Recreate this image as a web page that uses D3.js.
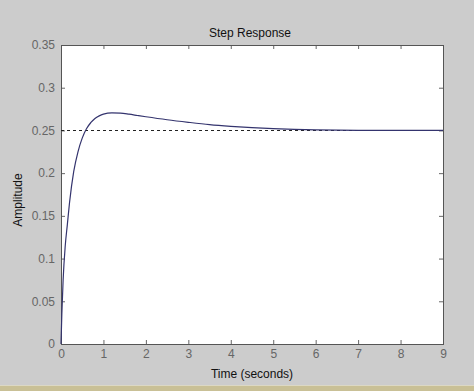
<!DOCTYPE html>
<html>
<head>
<meta charset="utf-8">
<script src="https://cdn.jsdelivr.net/npm/d3@7"></script>
<style>
  html, body { margin: 0; padding: 0; background: #cccccc; }
  svg { display: block; }
</style>
</head>
<body>
<script>
var width = 474
var height = 391

// step response
var time = [0, 0.02, 0.05, 0.1, 0.15, 0.2, 0.3, 0.4, 0.5, 0.6, 0.7, 0.8, 0.9, 1.0, 1.2, 1.4, 1.6, 1.8, 2.0, 2.5, 3.0, 3.5, 4.0, 4.5, 5.0, 5.5, 6.0, 7.0, 8.0, 9.0]
var amplitude = [0, 0.035, 0.075, 0.115, 0.14, 0.165, 0.202, 0.225, 0.241, 0.252, 0.259, 0.264, 0.267, 0.269, 0.2705, 0.2702, 0.269, 0.2675, 0.266, 0.2625, 0.2595, 0.2568, 0.2548, 0.2532, 0.252, 0.2512, 0.2506, 0.2501, 0.25, 0.25]
var steadyState = 0.25
var steadyEnd = 6.9
var xTicks = [0, 1, 2, 3, 4, 5, 6, 7, 8, 9]
var yTicks = [0, 0.05, 0.1, 0.15, 0.2, 0.25, 0.3, 0.35]

var margin = { left: 61, right: 31, top: 45, bottom: 47 }

var x = d3.scaleLinear().domain([0, 9]).range([margin.left, width - margin.right])
var y = d3.scaleLinear().domain([0, 0.35]).range([height - margin.bottom, margin.top])

const svg = d3.select("body").append("svg")
  .attr("width", width).attr("height", height)
  .style("font-family", "Arial, 'Liberation Sans', sans-serif")

svg.append("rect").attr("width", width).attr("height", height).attr("fill", "#cccccc")
// taskbar strip at the bottom
svg.append("rect").attr("x", 0).attr("y", 385).attr("width", width).attr("height", 1).attr("fill", "#dcd8c4")
svg.append("rect").attr("x", 0).attr("y", 386).attr("width", width).attr("height", 5).attr("fill", "#c9c096")

// plot area
svg.append("rect")
  .attr("x", x(0)).attr("y", y(0.35))
  .attr("width", x(9) - x(0)).attr("height", y(0) - y(0.35))
  .attr("fill", "#ffffff")

const tickLen = 4
const tickColor = "#666666"

function styleAxis(g) {
  g.select(".domain").remove()
  g.selectAll(".tick line").attr("stroke", tickColor)
  g.selectAll(".tick text").attr("fill", "#666666").style("font-size", "12px")
}

svg.append("g").attr("transform", `translate(0,${y(0)})`)
  .call(d3.axisBottom(x).tickValues(xTicks).tickSize(-tickLen).tickPadding(5).tickFormat(d3.format("d")))
  .call(styleAxis)
svg.append("g").attr("transform", `translate(0,${y(0.35)})`)
  .call(d3.axisTop(x).tickValues(xTicks).tickSize(-tickLen).tickFormat(""))
  .call(styleAxis)
svg.append("g").attr("transform", `translate(${x(0)},0)`)
  .call(d3.axisLeft(y).tickValues(yTicks).tickSize(-tickLen).tickPadding(6).tickFormat(d => d === 0 ? "0" : String(+d.toFixed(2))))
  .call(styleAxis)
svg.append("g").attr("transform", `translate(${x(9)},0)`)
  .call(d3.axisRight(y).tickValues(yTicks).tickSize(-tickLen).tickFormat(""))
  .call(styleAxis)

// box
svg.append("rect")
  .attr("x", x(0)).attr("y", y(0.35))
  .attr("width", x(9) - x(0)).attr("height", y(0) - y(0.35))
  .attr("fill", "none").attr("stroke", "#555555").attr("stroke-width", 1)
  .attr("shape-rendering", "crispEdges")

// steady state dashed line
svg.append("line")
  .attr("x1", x(0)).attr("x2", x(steadyEnd))
  .attr("y1", Math.round(y(steadyState)) + 0.5).attr("y2", Math.round(y(steadyState)) + 0.5)
  .attr("stroke", "#222222").attr("stroke-width", 1.2).attr("stroke-dasharray", "3,3")

var points = time.map((t, i) => [t, amplitude[i]])
var line = d3.line().x(d => x(d[0])).y(d => y(d[1])).curve(d3.curveMonotoneX)

svg.append("path")
  .datum(points)
  .attr("d", line)
  .attr("fill", "none")
  .attr("stroke", "#34346e")
  .attr("stroke-width", 1.2)

// labels
svg.append("text").attr("x", 250).attr("y", 37).attr("text-anchor", "middle")
  .style("font-size", "12px").attr("fill", "#111").text("Step Response")
svg.append("text").attr("x", 252).attr("y", 378).attr("text-anchor", "middle")
  .style("font-size", "12px").attr("fill", "#111").text("Time (seconds)")
svg.append("text").attr("transform", "translate(22,200) rotate(-90)").attr("text-anchor", "middle")
  .style("font-size", "12px").attr("fill", "#111").text("Amplitude")
</script>
</body>
</html>
